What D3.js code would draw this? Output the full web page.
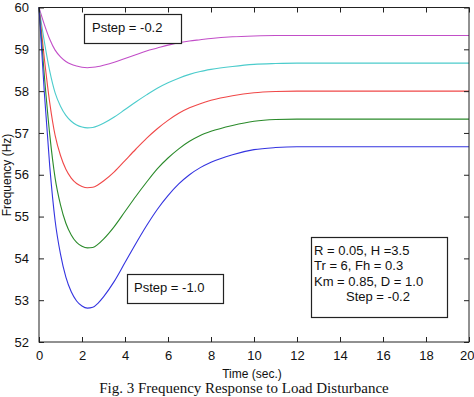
<!DOCTYPE html>
<html>
<head>
<meta charset="utf-8">
<script src="https://cdn.jsdelivr.net/npm/d3@7"></script>
<style>
  body { margin: 0; background: #fff; }
  svg { display: block; }
  .axis text { font-family: "Liberation Sans", Arial, sans-serif; font-size: 13px; fill: #111; }
  .lbl { font-family: "Liberation Sans", Arial, sans-serif; font-size: 12px; fill: #111; }
  .note { font-family: "Liberation Sans", Arial, sans-serif; font-size: 13px; fill: #111; }
  .cap { font-family: "Liberation Serif", "Times New Roman", serif; font-size: 15px; fill: #111; }
</style>
</head>
<body>
<svg width="474" height="397"></svg>
<script>
// time samples (sec.)
var times = [0, 0.25, 0.5, 0.75, 1, 1.25, 1.5, 1.75, 2, 2.25, 2.5, 2.75, 3, 3.5, 4, 4.5, 5, 5.5, 6, 6.5, 7, 7.5, 8, 9, 10, 11, 12, 14, 16, 18, 20];

// frequency (Hz) for each load step
var pstep02 = [60, 59.59, 59.24, 58.98, 58.82, 58.71, 58.64, 58.6, 58.57, 58.56, 58.57, 58.59, 58.62, 58.69, 58.78, 58.87, 58.96, 59.03, 59.1, 59.16, 59.2, 59.23, 59.26, 59.3, 59.32, 59.33, 59.33, 59.33, 59.33, 59.33, 59.33];
var pstep04 = [60, 59.18, 58.48, 57.96, 57.64, 57.42, 57.28, 57.19, 57.14, 57.12, 57.13, 57.17, 57.23, 57.38, 57.56, 57.74, 57.91, 58.07, 58.2, 58.31, 58.4, 58.47, 58.52, 58.59, 58.64, 58.66, 58.67, 58.67, 58.67, 58.67, 58.67];
var pstep06 = [60, 58.77, 57.72, 56.94, 56.46, 56.13, 55.92, 55.79, 55.72, 55.69, 55.7, 55.76, 55.85, 56.07, 56.34, 56.61, 56.87, 57.1, 57.3, 57.47, 57.6, 57.7, 57.78, 57.89, 57.96, 57.99, 58, 58, 58, 58, 58];
var pstep08 = [60, 58.36, 56.96, 55.92, 55.28, 54.84, 54.56, 54.38, 54.29, 54.25, 54.26, 54.34, 54.46, 54.76, 55.12, 55.48, 55.82, 56.14, 56.4, 56.62, 56.8, 56.94, 57.04, 57.18, 57.28, 57.32, 57.33, 57.33, 57.33, 57.33, 57.33];
var pstep10 = [60, 57.95, 56.2, 54.9, 54.1, 53.55, 53.2, 52.98, 52.86, 52.81, 52.83, 52.93, 53.08, 53.45, 53.9, 54.35, 54.78, 55.17, 55.5, 55.78, 56, 56.17, 56.3, 56.48, 56.6, 56.65, 56.67, 56.67, 56.67, 56.67, 56.67];

var seriesColors = ["#c24ec8", "#4ccccc", "#f04848", "#2a8a2a", "#3434e0"];

var xTicks = [0, 2, 4, 6, 8, 10, 12, 14, 16, 18, 20];
var yTicks = [52, 53, 54, 55, 56, 57, 58, 59, 60];

var paramLines = ["R = 0.05, H =3.5", "Tr = 6, Fh = 0.3", "Km = 0.85, D = 1.0", "Step = -0.2"];

var svg = d3.select("svg");
var plotL = 39, plotR = 469, plotT = 7.5, plotB = 342;

var x = d3.scaleLinear().domain([0, 20]).range([plotL, plotR]);
var y = d3.scaleLinear().domain([52, 60]).range([plotB, plotT]);

var series = [pstep02, pstep04, pstep06, pstep08, pstep10];

var line = d3.line()
    .x(function (d, i) { return x(times[i]); })
    .y(function (d) { return y(d); })
    .curve(d3.curveMonotoneX);

var plot = svg.append("g");
plot.selectAll("path")
    .data(series)
    .enter()
        .append("path")
        .attr("d", line)
        .attr("fill", "none")
        .attr("stroke", function (d, i) { return seriesColors[i]; })
        .attr("stroke-width", 1.1);

// axes, ticks inward on all four sides
function styleAxis(g) {
    g.select(".domain").remove();
    g.selectAll("line").attr("stroke", "#222");
}
var xAxisG = svg.append("g").attr("class", "axis")
    .attr("transform", "translate(0," + plotB + ")")
    .call(d3.axisBottom(x).tickValues(xTicks).tickSizeInner(-5).tickSizeOuter(0).tickPadding(9))
    .call(styleAxis);
// last label sits at the window edge; keep it inside
xAxisG.selectAll(".tick text").filter(function (d) { return d === 20; })
    .attr("text-anchor", "end").attr("dx", "5");
svg.append("g").attr("class", "axis")
    .attr("transform", "translate(0," + plotT + ")")
    .call(d3.axisTop(x).tickValues(xTicks).tickSizeInner(-5).tickSizeOuter(0).tickFormat(""))
    .call(styleAxis);
svg.append("g").attr("class", "axis")
    .attr("transform", "translate(" + plotL + ",0)")
    .call(d3.axisLeft(y).tickValues(yTicks).tickSizeInner(-5).tickSizeOuter(0).tickPadding(10))
    .call(styleAxis);
svg.append("g").attr("class", "axis")
    .attr("transform", "translate(" + plotR + ",0)")
    .call(d3.axisRight(y).tickValues(yTicks).tickSizeInner(-5).tickSizeOuter(0).tickFormat(""))
    .call(styleAxis);

svg.append("rect")
    .attr("x", plotL).attr("y", plotT)
    .attr("width", plotR - plotL).attr("height", plotB - plotT)
    .attr("fill", "none").attr("stroke", "#222").attr("stroke-width", 1);

// axis titles
svg.append("text").attr("class", "lbl")
    .attr("x", 252).attr("y", 378)
    .attr("text-anchor", "middle")
    .text("Time (sec.)");
svg.append("text").attr("class", "lbl")
    .attr("transform", "translate(11,175) rotate(-90)")
    .attr("text-anchor", "middle")
    .text("Frequency (Hz)");

// annotation boxes
function noteBox(bx, by, bw, bh, lines, xs) {
    var g = svg.append("g");
    g.append("rect")
        .attr("x", bx).attr("y", by).attr("width", bw).attr("height", bh)
        .attr("fill", "#fff").attr("stroke", "#222").attr("stroke-width", 1.2);
    g.selectAll("text")
        .data(lines)
        .enter()
            .append("text")
            .attr("class", "note")
            .attr("x", function (d, i) { return xs[i]; })
            .attr("y", function (d, i) { return by + 17 + i * 15.5; })
            .text(function (d) { return d; });
}
noteBox(84.5, 14.5, 97, 29, ["Pstep = -0.2"], [92]);
noteBox(127.5, 274.5, 96, 29, ["Pstep = -1.0"], [134]);
noteBox(311.5, 237.5, 136, 80, paramLines, [314, 314, 314, 346]);

svg.append("text").attr("class", "cap")
    .attr("x", 244).attr("y", 393)
    .attr("text-anchor", "middle")
    .text("Fig. 3 Frequency Response to Load Disturbance");
</script>
</body>
</html>
